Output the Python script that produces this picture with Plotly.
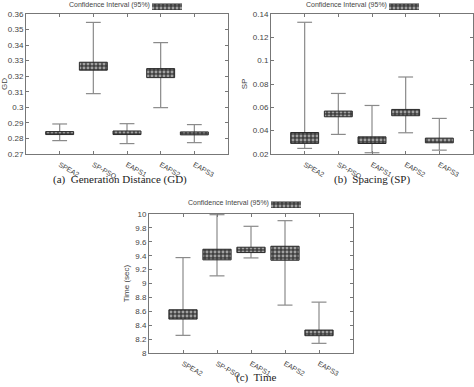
import plotly.graph_objects as go

methods = ["SPEA2", "SP-PSO", "EAPS1", "EAPS2", "EAPS3"]

gd_low = [0.2786, 0.3088, 0.2767, 0.2998, 0.2773]
gd_ci_low = [0.2825, 0.3239, 0.2825, 0.3191, 0.2823]
gd_ci_high = [0.2844, 0.3290, 0.2848, 0.3249, 0.2842]
gd_high = [0.2893, 0.3546, 0.2895, 0.3416, 0.2889]

sp_low = [0.0248, 0.0368, 0.0211, 0.0382, 0.0233]
sp_ci_low = [0.0291, 0.0519, 0.0290, 0.0528, 0.0296]
sp_ci_high = [0.0384, 0.0568, 0.0347, 0.0582, 0.0336]
sp_high = [0.1329, 0.0719, 0.0616, 0.0860, 0.0505]

time_low = [8.254, 9.11, 9.368, 8.689, 8.139]
time_ci_low = [8.488, 9.340, 9.445, 9.335, 8.249]
time_ci_high = [8.622, 9.493, 9.522, 9.536, 8.330]
time_high = [9.373, 9.99, 9.823, 9.904, 8.732]

legend_label = "Confidence Interval (95%)"

W, H = 474, 387
def px(x):
    return x / W
def py(y):
    return 1 - y / H

panels = [
    dict(low=gd_low, cl=gd_ci_low, ch=gd_ci_high, high=gd_high, xd=[px(26), px(228)], yd=[py(154), py(14)],
         yr=[0.27, 0.36], dt=0.01, ytitle="GD", caption="(a)  Generation Distance (GD)", cap_x=px(120), cap_y=py(180),
         txt_x=px(152), txt_y=py(5)),
    dict(low=sp_low, cl=sp_ci_low, ch=sp_ci_high, high=sp_high, xd=[px(271), px(473)], yd=[py(154), py(14)],
         yr=[0.02, 0.14], dt=0.02, ytitle="SP", caption="(b)  Spacing (SP)", cap_x=px(372), cap_y=py(180),
         txt_x=px(389), txt_y=py(5)),
    dict(low=time_low, cl=time_ci_low, ch=time_ci_high, high=time_high, xd=[px(149), px(353)], yd=[py(353), py(214)],
         yr=[8, 10], dt=0.2, ytitle="Time (sec)", caption="(c)  Time", cap_x=px(256), cap_y=py(377),
         txt_x=px(271), txt_y=py(203)),
]

fig = go.Figure()
xpos = [i + 1 for i in range(len(methods))]
cap_half = 0.22
box_half = 0.415
whisk_col = "#8a8a8a"
sans = "Liberation Sans, Arial, sans-serif"
tick_font = dict(family=sans, size=8, color="#444")

for k, p in enumerate(panels):
    sfx = "" if k == 0 else str(k + 1)
    xa, ya = "x" + sfx, "y" + sfx
    # whiskers with caps
    wx, wy = [], []
    for i, x in enumerate(xpos):
        wx += [x, x, None]
        wy += [p["low"][i], p["high"][i], None]
        wx += [x - cap_half, x + cap_half, None, x - cap_half, x + cap_half, None]
        wy += [p["low"][i], p["low"][i], None, p["high"][i], p["high"][i], None]
    fig.add_trace(go.Scatter(x=wx, y=wy, mode="lines", line=dict(color=whisk_col, width=1.2),
                             showlegend=False, hoverinfo="skip", xaxis=xa, yaxis=ya))
    # confidence interval boxes
    bx, by = [], []
    for i, x in enumerate(xpos):
        bx += [x - box_half, x + box_half, x + box_half, x - box_half, x - box_half, None]
        by += [p["cl"][i], p["cl"][i], p["ch"][i], p["ch"][i], p["cl"][i], None]
    fig.add_trace(go.Scatter(
        x=bx, y=by, mode="lines", fill="toself", fillcolor="#3a3a3a",
        fillpattern=dict(shape=".", fgcolor="#ffffff", bgcolor="#404040", size=4, solidity=0.42),
        line=dict(color="#2a2a2a", width=1),
        name="", showlegend=True, legend="legend" + sfx, xaxis=xa, yaxis=ya, hoverinfo="skip"))

    axis_common = dict(showgrid=False, zeroline=False, showline=True, linecolor="#777", linewidth=1,
                       mirror="ticks", ticks="inside", ticklen=3, tickcolor="#777")
    fig.update_layout({
        "xaxis" + sfx: dict(domain=p["xd"], range=[0, 6], tickvals=xpos, ticktext=methods, tickangle=30,
                            anchor=ya, tickfont=dict(family=sans, size=7, color="#444"),
                            ticklabelstandoff=3, **axis_common),
        "yaxis" + sfx: dict(domain=p["yd"], range=p["yr"], dtick=p["dt"], anchor=xa, tickfont=tick_font,
                            title=dict(text=p["ytitle"], font=dict(family=sans, size=8, color="#444"), standoff=4),
                            **axis_common),
        "legend" + sfx: dict(x=p["txt_x"] - px(5), y=p["txt_y"] + 13.5 / H, xanchor="left", yanchor="top",
                             bgcolor="rgba(0,0,0,0)", borderwidth=0,
                             font=dict(family=sans, size=7, color="#444")),
    })
    fig.add_annotation(x=p["txt_x"], y=p["txt_y"], xref="paper", yref="paper", text=legend_label,
                       showarrow=False, xanchor="right", yanchor="middle",
                       font=dict(family=sans, size=7, color="#444"))
    fig.add_annotation(x=p["cap_x"], y=p["cap_y"], xref="paper", yref="paper", text=p["caption"],
                       showarrow=False, xanchor="center", yanchor="middle",
                       font=dict(family="Liberation Serif, Times New Roman, serif", size=11, color="#222"))

fig.update_layout(width=W, height=H, margin=dict(l=0, r=0, t=0, b=0, autoexpand=False),
                  plot_bgcolor="white", paper_bgcolor="white", showlegend=True)
fig.write_html("out.html", config={"displayModeBar": False},
               post_script="document.body.style.margin='0';")
